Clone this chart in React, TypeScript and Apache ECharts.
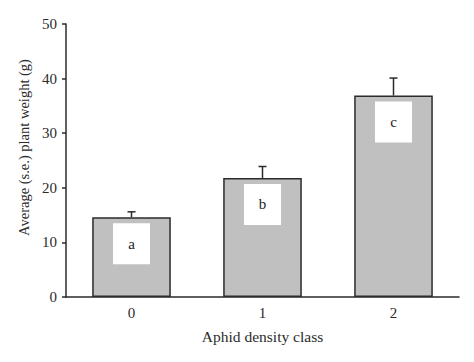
import React, { useEffect, useRef } from "react";
import * as echarts from "echarts";

const categories = ["0", "1", "2"];
const means = [14.6, 21.8, 36.9];
const upperErr = [15.6, 23.9, 40.1];
const letters = ["a", "b", "c"];
const yTicks = { min: 0, max: 50, interval: 10 };

const FONT = "'Liberation Serif', 'DejaVu Serif', serif";
const INK = "#2b2b2b";

export default function App() {
  const ref = useRef<HTMLDivElement>(null);
  useEffect(() => {
    if (!ref.current) return;
    const chart = echarts.init(ref.current, undefined, { renderer: "svg" });
    chart.setOption({
      animation: false,
      backgroundColor: "#ffffff",
      grid: { left: 66, right: 15, top: 24, bottom: 65 },
      xAxis: {
        type: "category",
        data: categories,
        name: "Aphid density class",
        nameLocation: "middle",
        nameGap: 31,
        nameTextStyle: { fontFamily: FONT, fontSize: 15.5, color: INK },
        axisLine: { lineStyle: { color: INK, width: 1.5 } },
        axisTick: { alignWithLabel: true, length: 4, lineStyle: { color: INK, width: 1.5 } },
        axisLabel: { fontFamily: FONT, fontSize: 15, color: INK, margin: 8 },
      },
      yAxis: {
        type: "value",
        min: yTicks.min,
        max: yTicks.max,
        interval: yTicks.interval,
        name: "Average (s.e.) plant weight (g)",
        nameLocation: "middle",
        nameGap: 33,
        nameTextStyle: { fontFamily: FONT, fontSize: 14.5, color: INK, padding: [0, 0, 0, 26] },
        splitLine: { show: false },
        axisLine: { show: true, lineStyle: { color: INK, width: 1.5 } },
        axisTick: { show: true, length: 4, lineStyle: { color: INK, width: 1.5 } },
        axisLabel: { fontFamily: FONT, fontSize: 15, color: INK, margin: 9 },
      },
      series: [
        {
          type: "bar",
          data: means.map((v, i) => ({ value: v, label: { formatter: letters[i] } })),
          barWidth: "60%",
          itemStyle: { color: "#c0c0c0", borderColor: INK, borderWidth: 1.5 },
          label: {
            show: true,
            position: "insideTop",
            distance: 6,
            backgroundColor: "#ffffff",
            padding: [13, 15, 13, 15],
            width: 7,
            lineHeight: 15,
            fontFamily: FONT,
            fontSize: 15,
            color: "#222",
          },
          z: 2,
        },
        {
          type: "custom",
          data: means.map((m, i) => [i, m, upperErr[i]]),
          encode: { x: 0, y: 2 },
          z: 3,
          renderItem: (params: any, api: any) => {
            const x = api.value(0);
            const base = api.coord([x, api.value(1)]);
            const top = api.coord([x, api.value(2)]);
            const style = { stroke: INK, lineWidth: 1.5 };
            return {
              type: "group",
              children: [
                { type: "line", shape: { x1: base[0], y1: base[1], x2: top[0], y2: top[1] }, style },
                { type: "line", shape: { x1: top[0] - 4, y1: top[1], x2: top[0] + 4, y2: top[1] }, style },
              ],
            };
          },
        },
      ],
    });
    return () => chart.dispose();
  }, []);
  return (
    <div
      ref={ref}
      style={{ position: "fixed", left: 0, top: 0, width: 474, height: 362 }}
    />
  );
}
